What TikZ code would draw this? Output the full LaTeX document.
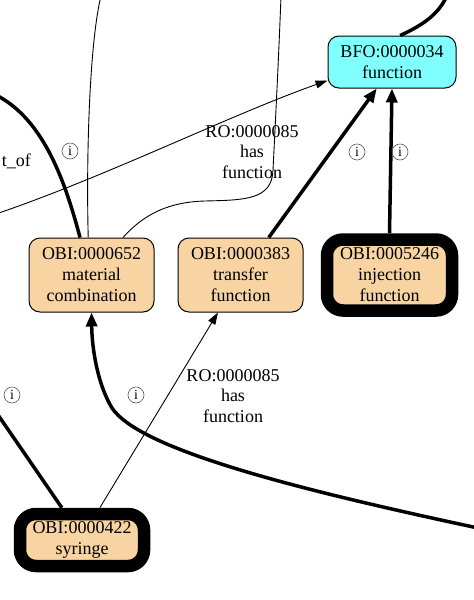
\documentclass[tikz,border=0pt]{standalone}
\usepackage{fontspec}
\setmainfont{Liberation Serif}
\usepackage{tikz}
\usetikzlibrary{arrows.meta,calc}
\definecolor{rootcyan}{HTML}{80FFFF}
\definecolor{termtan}{HTML}{F9D4A3}
\definecolor{infogray}{HTML}{5A5A5A}

\begin{document}
\begin{tikzpicture}[x=1pt,y=-1pt,
  term/.style={draw,line width=1pt,rounded corners=11pt,fill=termtan,align=center,inner sep=0pt,
    minimum width=125pt,minimum height=74pt,font=\fontsize{18}{21}\selectfont},
  heavy/.style={term,line width=12.5pt,rounded corners=16pt},
  isa/.style={line width=3.5pt},
  rel/.style={line width=0.9pt},
  bigtip/.style={-{Triangle[length=14pt,width=11pt]}},
  smalltip/.style={-{Triangle[length=12pt,width=8pt]}},
  info/.style={circle,draw=infogray,line width=0.6pt,minimum size=16pt,inner sep=0pt,
    font=\fontsize{14}{14}\selectfont},
  edgelabel/.style={align=center,inner sep=0pt,font=\fontsize{18}{20.5}\selectfont}]
  \useasboundingbox (0,0) rectangle (474,600);
  \clip (0,0) rectangle (474,600);

  % terms
  \node[term,fill=rootcyan,minimum width=128pt,minimum height=52pt] (bfo) at (392,62) {BFO:0000034\\function};
  \node[term] (matcomb) at (91.5,275) {OBI:0000652\\material\\combination};
  \node[term] (transfer) at (240.5,275) {OBI:0000383\\transfer\\function};
  \node[heavy,minimum width=125pt,minimum height=71pt] (inject) at (389.5,275) {OBI:0005246\\injection\\function};
  \node[heavy,minimum width=124pt,minimum height=52pt] (syringe) at (82,540) {OBI:0000422\\syringe};

  % loose ends outside the frame
  \coordinate (bfoup) at (447,-4);
  \coordinate (leftA) at (-4,214);
  \coordinate (leftB) at (-4,95);
  \coordinate (topA) at (101,-4);
  \coordinate (topB) at (281,-4);
  \coordinate (rightA) at (478,528);
  \coordinate (leftC) at (-4,412);

  % edges
  \draw[isa] (bfo.73) .. controls (430,22) and (440,10) .. (bfoup);
  \draw[rel,smalltip] (leftA) .. controls (110,175) and (230,115) .. (bfo.196);
  \draw[isa] (matcomb.107) .. controls (66,185) and (45,120) .. (leftB);
  \draw[rel] (matcomb.95) .. controls (86,150) and (90,40) .. (topA);
  \draw[rel] (matcomb.50) .. controls (145,213) and (170,202) .. (205,201)
    .. controls (245,200) and (272,200) .. (273,170)
    .. controls (276,110) and (279,50) .. (topB);
  \draw[isa,bigtip] (transfer.53) -- (bfo.240);
  \draw[isa,bigtip] (inject.north) -- (bfo.south);
  \draw[isa,bigtip] (rightA) .. controls (300,490) and (140,450) .. (112,408)
    .. controls (98,385) and (92,350) .. (matcomb.south);
  \draw[rel,smalltip] (syringe.61) -- (transfer.239);
  \draw[isa] (syringe.122) -- (leftC);

  % labels
  \node[edgelabel] (relA) at (252,152) {RO:0000085\\has\\function};
  \node[edgelabel] (relB) at (233,396) {RO:0000085\\has\\function};
  \node[edgelabel,anchor=east] (partof) at (31,161) {t\_of};
  \node[info] (infoA) at (70,151) {i};
  \node[info] (infoB) at (357,152) {i};
  \node[info] (infoC) at (400,152) {i};
  \node[info] (infoD) at (12,395) {i};
  \node[info] (infoE) at (136,395) {i};
\end{tikzpicture}
\end{document}
